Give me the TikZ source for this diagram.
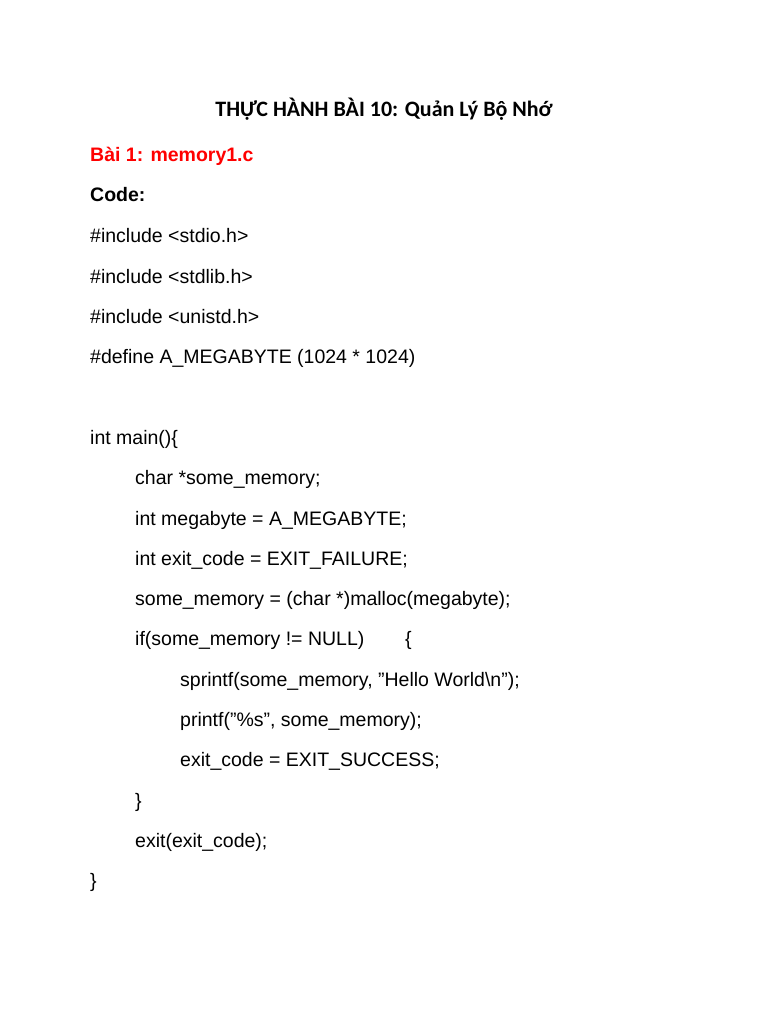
\documentclass[tikz,border=0pt]{standalone}
\usepackage{fontspec}
\setmainfont{Liberation Sans}
\newfontfamily\titlefont{Carlito}
\begin{document}
\begin{tikzpicture}[x=1pt,y=-1pt,
  ln/.style={anchor=base west,inner sep=0pt,font=\fontsize{19.5}{22}\selectfont}]
\useasboundingbox[fill=white] (0,0) rectangle (768,1024);
\node[anchor=base,inner sep=0pt,font=\titlefont\bfseries\fontsize{22}{26}\selectfont] (t) at (384,117) {THỰC HÀNH BÀI 10: Quản Lý Bộ Nhớ};
\node[ln,text={rgb,255:red,255;green,0;blue,0},font=\bfseries\fontsize{19.5}{22}\selectfont] (b1) at (90,162) {Bài 1: memory1.c};
\node[ln,font=\bfseries\fontsize{19.5}{22}\selectfont] (c) at (90,202) {Code:};
\node[ln] (l1) at (90,243) {\#include <stdio.h>};
\node[ln] (l2) at (90,283) {\#include <stdlib.h>};
\node[ln] (l3) at (90,323) {\#include <unistd.h>};
\node[ln] (l4) at (90,363) {\#define A\_MEGABYTE (1024 * 1024)};
\node[ln] (l5) at (90,444) {int main()\{};
\node[ln] (l6) at (135,484) {char *some\_memory;};
\node[ln] (l7) at (135,525) {int megabyte = A\_MEGABYTE;};
\node[ln] (l8) at (135,565) {int exit\_code = EXIT\_FAILURE;};
\node[ln] (l9) at (135,605) {some\_memory = (char *)malloc(megabyte);};
\node[ln] (l10) at (135,645) {if(some\_memory != NULL)};
\node[ln] (l10b) at (405,645) {\{};
\node[ln] (l11) at (180,686) {sprintf(some\_memory, "Hello World\textbackslash n");};
\node[ln] (l12) at (180,726) {printf("\%s", some\_memory);};
\node[ln] (l13) at (180,766) {exit\_code = EXIT\_SUCCESS;};
\node[ln] (l14) at (135,807) {\}};
\node[ln] (l15) at (135,847) {exit(exit\_code);};
\node[ln] (l16) at (90,887) {\}};
\end{tikzpicture}
\end{document}
